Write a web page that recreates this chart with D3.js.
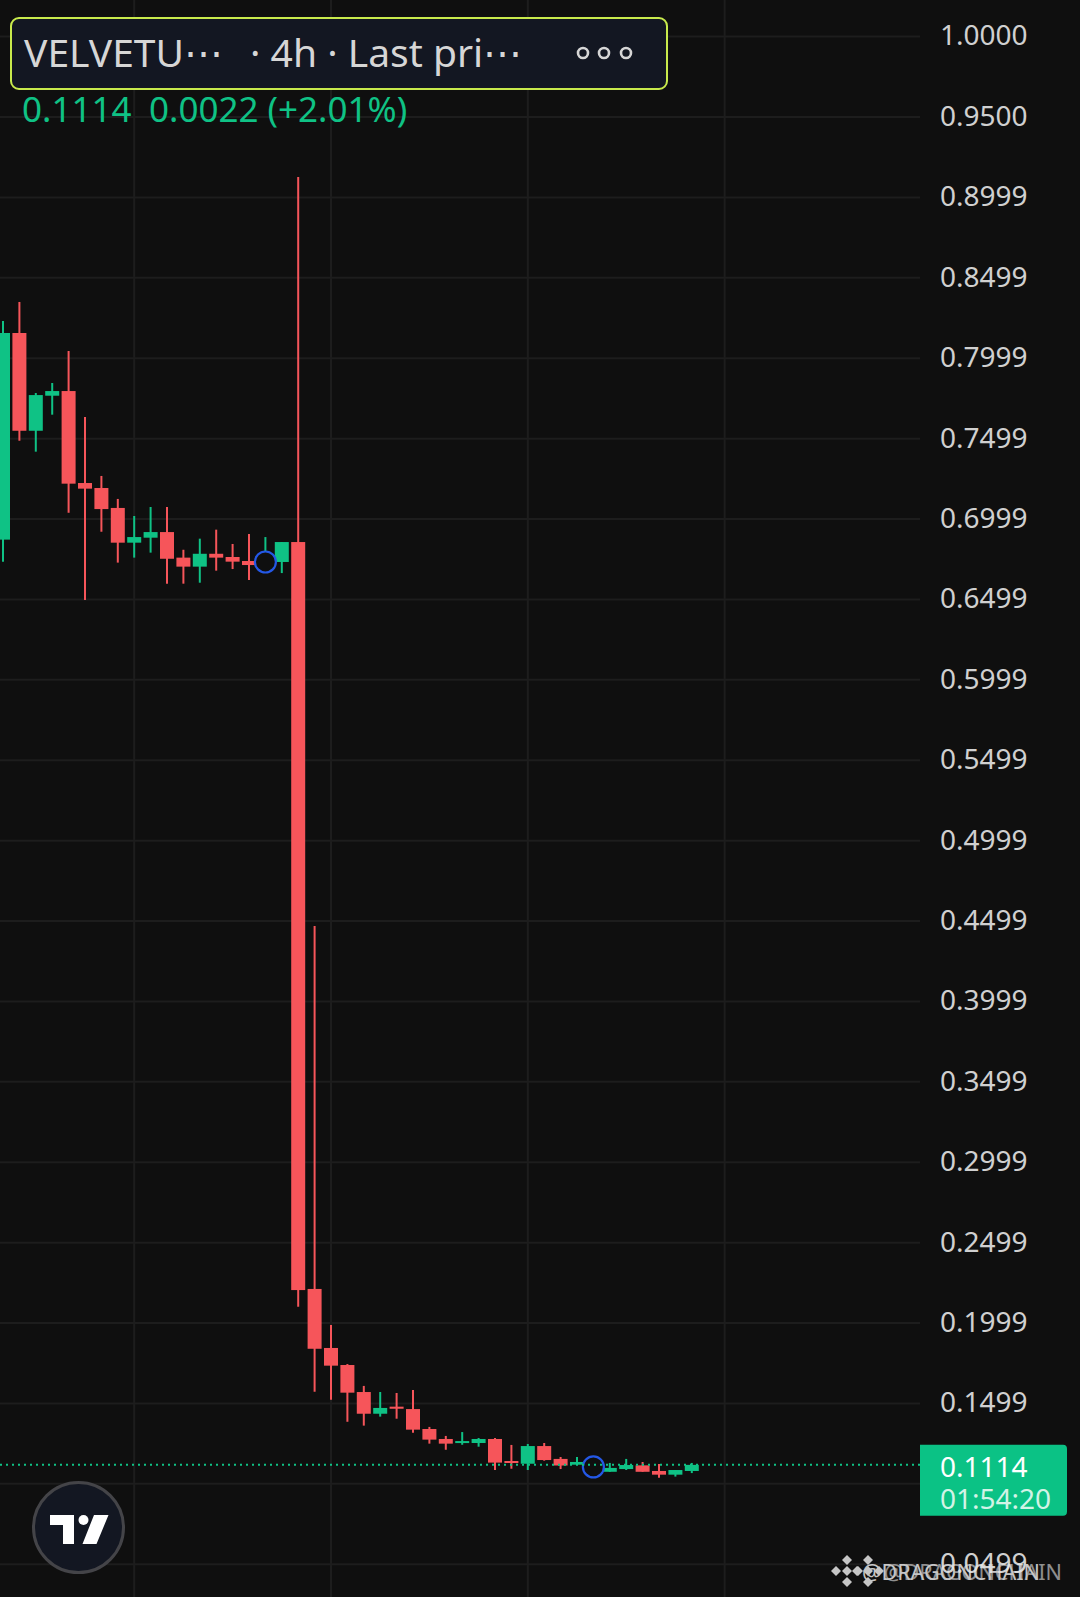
<html>
<head>
	<meta charset="utf-8">
	<title>VELVETUSDT 4h</title>
	<script src="https://cdn.jsdelivr.net/npm/d3@7/dist/d3.min.js"></script>
	<style>
		body { margin: 0; background: #0f0f0f; }
		svg { display: block; }
		text { font-family: "Noto Sans", "Open Sans", sans-serif; }
	</style>
</head>
<body>
	<svg id="chart"></svg>
	<script>
		// 4h candles, oldest (partly off-screen on the left) to newest
		var candleOpen  = [0.6868, 0.8153, 0.7545, 0.7763, 0.7792, 0.7220, 0.7189, 0.7065, 0.6849, 0.6880, 0.6915, 0.6756, 0.6700, 0.6780, 0.6760, 0.6735, 0.6735, 0.6729, 0.6853, 0.2208, 0.1841, 0.1735, 0.1567, 0.1432, 0.1476, 0.1461, 0.1337, 0.1275, 0.1250, 0.1250, 0.1275, 0.1138, 0.1121, 0.1231, 0.1151, 0.1115, 0.1113, 0.1071, 0.1088, 0.1111, 0.1076, 0.1053, 0.1076];
		var candleHigh  = [0.8228, 0.8346, 0.7780, 0.7842, 0.8041, 0.7631, 0.7264, 0.7121, 0.7015, 0.7071, 0.7071, 0.6805, 0.6874, 0.6930, 0.6841, 0.6903, 0.6884, 0.6853, 0.9123, 0.4465, 0.1984, 0.1741, 0.1605, 0.1567, 0.1561, 0.1580, 0.1350, 0.1294, 0.1318, 0.1281, 0.1281, 0.1238, 0.1244, 0.1250, 0.1163, 0.1163, 0.1132, 0.1126, 0.1151, 0.1132, 0.1119, 0.1082, 0.1126];
		var candleLow   = [0.6731, 0.7483, 0.7415, 0.7645, 0.7035, 0.6493, 0.6917, 0.6725, 0.6756, 0.6787, 0.6594, 0.6594, 0.6600, 0.6675, 0.6685, 0.6617, 0.6692, 0.6660, 0.2098, 0.1569, 0.1519, 0.1382, 0.1358, 0.1414, 0.1401, 0.1314, 0.1246, 0.1208, 0.1239, 0.1227, 0.1082, 0.1090, 0.1082, 0.1140, 0.1088, 0.1113, 0.1076, 0.1071, 0.1082, 0.1071, 0.1034, 0.1041, 0.1063];
		var candleClose = [0.8153, 0.7545, 0.7767, 0.7792, 0.7216, 0.7185, 0.7058, 0.6849, 0.6884, 0.6915, 0.6749, 0.6700, 0.6780, 0.6756, 0.6731, 0.6710, 0.6766, 0.6853, 0.2201, 0.1836, 0.1731, 0.1563, 0.1432, 0.1468, 0.1463, 0.1333, 0.1271, 0.1246, 0.1262, 0.1275, 0.1128, 0.1128, 0.1231, 0.1144, 0.1110, 0.1132, 0.1095, 0.1095, 0.1113, 0.1071, 0.1053, 0.1082, 0.1114];

		// price axis ticks as printed on the scale
		var priceTicks = [1.0000, 0.9500, 0.8999, 0.8499, 0.7999, 0.7499, 0.6999, 0.6499, 0.5999, 0.5499, 0.4999, 0.4499, 0.3999, 0.3499, 0.2999, 0.2499, 0.1999, 0.1499, 0.0999, 0.0499];

		// the two blue circle markers (bar index, price)
		var markerBar   = [16, 36];
		var markerPrice = [0.6729, 0.1101];

		var symbolName = "VELVETU\u22EF";
		var symbolInfo = "\u00B7 4h \u00B7 Last pri\u22EF";
		var lastPrice = 0.1114;
		var lastChange = 0.0022;
		var lastChangePct = 2.01;
		var countdown = "01:54:20";
		var watermark = "@DRAGONCHAIN";

		var W = 1080, H = 1597;
		var bg = '#0f0f0f';
		var grid_color = '#1d1d1d';
		var up = '#0fc285';
		var down = '#f6555a';
		var axisX = 920;

		var data = candleOpen.map(function(o, i) {
			return {i: i, open: o, high: candleHigh[i], low: candleLow[i], close: candleClose[i]};
		});

		var svg = d3.select("#chart")
				.attr("width", W)
				.attr("height", H);

		svg.append("rect").attr("width", W).attr("height", H).attr("fill", bg);

		var x = d3.scaleLinear().domain([0, 42]).range([3, 691.8]);
		var y = d3.scaleLinear().domain([0, 1]).range([1644, 36]);
		var barW = 14;

		// vertical grid every 12 bars (2 days)
		svg.append("g").selectAll("line")
				.data(d3.range(-4, 50, 12))
				.enter().append("line")
				.attr("x1", function(d) { return x(d); })
				.attr("x2", function(d) { return x(d); })
				.attr("y1", 0).attr("y2", H)
				.attr("stroke", grid_color)
				.attr("stroke-width", 2);

		// price axis with grid lines
		var axis = svg.append("g")
				.attr("transform", "translate(" + axisX + ",0)")
				.call(d3.axisRight(y)
					.tickValues(priceTicks)
					.tickFormat(d3.format(".4f"))
					.tickSize(-axisX)
					.tickPadding(20));
		axis.select(".domain").remove();
		axis.selectAll(".tick line").attr("stroke", grid_color).attr("stroke-width", 2);
		axis.selectAll(".tick text")
				.attr("fill", "#d0d0d0")
				.style("font-size", "28px")
				.style("font-family", "'Noto Sans', sans-serif");

		// candles
		var candle = svg.append("g").selectAll("g")
				.data(data)
				.enter().append("g")
				.attr("fill", function(d) { return d.close >= d.open ? up : down; })
				.attr("stroke", function(d) { return d.close >= d.open ? up : down; });

		candle.append("line")
				.attr("x1", function(d) { return x(d.i); })
				.attr("x2", function(d) { return x(d.i); })
				.attr("y1", function(d) { return y(d.high); })
				.attr("y2", function(d) { return y(d.low); })
				.attr("stroke-width", 2);

		candle.append("rect")
				.attr("stroke", "none")
				.attr("x", function(d) { return x(d.i) - barW / 2; })
				.attr("width", barW)
				.attr("y", function(d) { return y(Math.max(d.open, d.close)); })
				.attr("height", function(d) { return Math.max(2, Math.abs(y(d.open) - y(d.close))); });

		// markers
		svg.append("g").selectAll("circle")
				.data(markerBar)
				.enter().append("circle")
				.attr("cx", function(d) { return x(d); })
				.attr("cy", function(d, i) { return y(markerPrice[i]); })
				.attr("r", 10.5)
				.attr("fill", bg)
				.attr("stroke", "#2458e6")
				.attr("stroke-width", 2.2);

		// last price line and label
		svg.append("line")
				.attr("x1", 0).attr("x2", axisX)
				.attr("y1", y(lastPrice)).attr("y2", y(lastPrice))
				.attr("stroke", up)
				.attr("stroke-width", 2)
				.attr("stroke-dasharray", "2,4");

		var ly = y(lastPrice);
		svg.append("path")
				.attr("d", "M" + axisX + "," + (ly - 20) + "H1063a4,4 0 0 1 4,4V" + (ly + 47) + "a4,4 0 0 1 -4,4H" + axisX + "Z")
				.attr("fill", "#0bc285");
		svg.append("text")
				.attr("x", 940).attr("y", ly + 12)
				.attr("fill", "#ffffff")
				.style("font-size", "28px")
				.text(d3.format(".4f")(lastPrice));
		svg.append("text")
				.attr("x", 940).attr("y", ly + 44)
				.attr("fill", "#d2f3e6")
				.style("font-size", "28px")
				.text(countdown);

		// header
		svg.append("rect")
				.attr("x", 11).attr("y", 18)
				.attr("width", 656).attr("height", 71)
				.attr("rx", 8)
				.attr("fill", "#131722")
				.attr("stroke", "#c8ea4c")
				.attr("stroke-width", 2);
		var title = svg.append("text")
				.attr("y", 67)
				.attr("fill", "#d6d6d6")
				.style("font-size", "39px");
		title.append("tspan").attr("x", 24).text(symbolName);
		title.append("tspan").attr("x", 250).text(symbolInfo);
		svg.append("g").selectAll("circle")
				.data([583, 604, 626])
				.enter().append("circle")
				.attr("cx", function(d) { return d; })
				.attr("cy", 53)
				.attr("r", 5)
				.attr("fill", "none")
				.attr("stroke", "#d6d6d6")
				.attr("stroke-width", 2.6);
		var quote = svg.append("text")
				.attr("y", 122)
				.attr("fill", up)
				.style("font-size", "35px");
		quote.append("tspan").attr("x", 22).text(d3.format(".4f")(lastPrice));
		quote.append("tspan").attr("x", 149).text(d3.format(".4f")(lastChange) + " (+" + d3.format(".2f")(lastChangePct) + "%)");

		// TradingView logo
		svg.append("circle")
				.attr("cx", 78.5).attr("cy", 1527.5).attr("r", 45)
				.attr("fill", "#131722")
				.attr("stroke", "#444448")
				.attr("stroke-width", 3);
		svg.append("path")
				.attr("d", "M50,1515H74V1544H63V1525H50Z M94,1515H108.5L96.5,1544H82.5Z")
				.attr("fill", "#ffffff");
		svg.append("circle")
				.attr("cx", 83.5).attr("cy", 1520).attr("r", 5)
				.attr("fill", "#ffffff");

		// watermark (doubled)
		function binanceLogo(g, cx, cy) {
			var s = 5;
			[[0, -2.2], [-2.2, 0], [2.2, 0], [0, 2.2], [0, 0]].forEach(function(p) {
				g.append("path")
					.attr("d", "M" + (cx + p[0] * s) + "," + (cy + p[1] * s - s) + "l" + s + "," + s + "l" + (-s) + "," + s + "l" + (-s) + "," + (-s) + "Z")
					.attr("fill", "#e6e6e6");
			});
		}
		var wm = svg.append("g").attr("opacity", 0.85);
		binanceLogo(wm, 847, 1571);
		binanceLogo(wm, 868, 1571);
		wm.append("text").attr("x", 862).attr("y", 1580)
				.attr("fill", "#e6e6e6").style("font-size", "22px")
				.attr("textLength", 178).attr("lengthAdjust", "spacingAndGlyphs")
				.text(watermark);
		wm.append("text").attr("x", 884).attr("y", 1580)
				.attr("fill", "#e6e6e6").style("font-size", "22px").attr("opacity", 0.7)
				.attr("textLength", 178).attr("lengthAdjust", "spacingAndGlyphs")
				.text(watermark);
	</script>
</body>
</html>
